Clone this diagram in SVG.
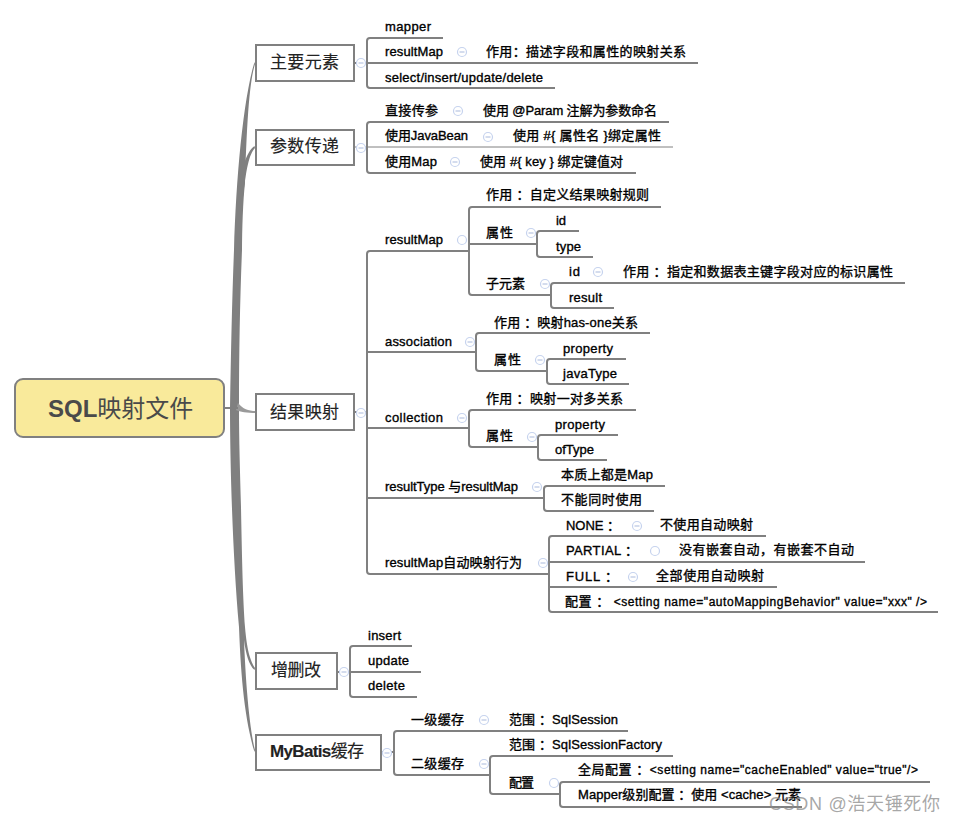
<svg xmlns="http://www.w3.org/2000/svg" width="956" height="822" viewBox="0 0 956 822">
<style>
text{font-family:"Liberation Sans","Noto Sans CJK SC",sans-serif;fill:#000}
.t{font-size:13px;stroke:#000;stroke-width:.35px}
.h{font-size:17px;fill:#222;stroke:#222;stroke-width:.15px}
.box{fill:#fff;stroke:#808080;stroke-width:2}
.l{fill:none;stroke:#808080;stroke-width:2}
.f{fill:#808080;stroke:none}
.c{fill:#fff;stroke:#c6d3ee;stroke-width:1.2}
.m{stroke:#a9b9dc;stroke-width:1;fill:none}
</style>
<defs>
<g id="cm"><circle class="c" r="4.5"/><path class="m" d="M-2.5 0H2.5"/></g>
<circle id="co" class="c" r="4.5"/>
</defs>
<rect width="956" height="822" fill="#fff"/>
<g id="connectors">
<path class="f" d="M230 408C231 350 232 300 234 250C236 180 243 100 254.5 62L255 64C250 80 247 115 245 183C243 200 242 230 242 250C240 300 239 350 239 408Z"/>
<path class="f" d="M239 192C241 170 246 152 254.5 146L255 148C249 154 246 170 243 197Z"/>
<path class="f" d="M230 408C230 470 233 560 239 627C241 680 245 720 254.5 752L255 750C250 730 246 690 244 640C246 655 249 665 254.5 670L255 668C250 660 247 650 245 627C243 600 242 560 241 507C240 470 239 440 239 408Z"/>
<path d="M238 403C243 409 248 411 256 411V413C247 413 240 412 236 410Z" fill="#9a9a9a"/>
<path class="l" d="M224 408H238"/>
<g id="c-main">
<path class="l" d="M443 38H370Q367 38 367 41V85Q367 88 370 88H555"/><path class="l" d="M354 63H698"/>
<path class="l" d="M669 122H370Q367 122 367 125V170Q367 173 370 173H636"/><path d="M354 147H673" fill="none" stroke="#808080"/>
<path class="l" d="M354 412H367"/>
<path class="l" d="M469 251H370Q367 251 367 254V571Q367 574 370 574H549"/>
<path class="l" d="M367 352H476M367 428H469M367 498H544"/>
</g>
<g id="c-resultmap">
<path class="l" d="M661 207H472Q469 207 469 210V292Q469 295 472 295H551"/><path class="l" d="M469 244H537"/>
<path class="l" d="M579 231H540Q537 231 537 234V254Q537 257 540 257H593"/>
<path class="l" d="M905 283H554Q551 283 551 286V305Q551 308 554 308H614"/>
<path class="l" d="M650 333H479Q476 333 476 336V368Q476 371 479 371H547"/>
<path class="l" d="M626 359H550Q547 359 547 362V381Q547 384 550 384H629"/>
<path class="l" d="M636 410H472Q469 410 469 413V444Q469 447 472 447H538"/>
<path class="l" d="M618 435H541Q538 435 538 438V457Q538 460 541 460H607"/>
<path class="l" d="M665 486H547Q544 486 544 489V508Q544 511 547 511H654"/>
<path class="l" d="M766 536H552Q549 536 549 539V609Q549 612 552 612H938"/>
<path class="l" d="M549 562H865M549 587H777"/>
</g>
<g id="c-crud">
<path class="l" d="M412 646H353Q350 646 350 649V694Q350 697 353 697H417"/><path class="l" d="M337 672H421"/>
</g>
<g id="c-cache">
<path class="l" d="M628 731H397Q394 731 394 734V772Q394 775 397 775H490"/>
<path class="l" d="M673 756H493Q490 756 490 759V791Q490 794 493 794H560"/>
<path class="l" d="M930 782H563Q560 782 560 785V804Q560 807 563 807H802"/>
<path class="l" d="M380 752H394"/>
</g>
</g>
<g id="root"><rect x="15" y="379" width="209" height="58" rx="8" fill="#f9ea9b" stroke="#808080" stroke-width="2"/>
<text x="48" y="417" font-size="24" style="fill:#4a4a4a"><tspan font-weight="bold">SQL</tspan>映射文件</text></g>
<g id="t1"><rect class="box" x="256" y="45" width="98" height="36"/><text class="h" x="270" y="68" textLength="69">主要元素</text><use href="#cm" x="361" y="63"/></g>
<g id="t2"><rect class="box" x="256" y="130" width="98" height="35"/><text class="h" x="270" y="152" textLength="69">参数传递</text><use href="#cm" x="361" y="148"/></g>
<g id="t3"><rect class="box" x="256" y="394" width="98" height="36"/><text class="h" x="270" y="418" textLength="69">结果映射</text><use href="#cm" x="361" y="413"/></g>
<g id="t4"><rect class="box" x="256" y="653" width="81" height="36"/><text class="h" x="271" y="676" textLength="50">增删改</text><use href="#cm" x="344" y="672"/></g>
<g id="t5"><rect class="box" x="256" y="735" width="125" height="35"/><text class="h" x="270" y="757" textLength="94"><tspan font-weight="bold">MyBatis</tspan>缓存</text><use href="#cm" x="387" y="753"/></g>

<g id="n1"><text class="t" x="385" y="31" textLength="46">mapper</text></g>
<g id="n2"><text class="t" x="385" y="56" textLength="58">resultMap</text><use href="#cm" x="462" y="52"/></g>
<g id="n3"><text class="t" x="486" y="56" textLength="200">作用：描述字段和属性的映射关系</text></g>
<g id="n4"><text class="t" x="385" y="82" textLength="158">select/insert/update/delete</text></g>
<g id="n5"><text class="t" x="385" y="115" textLength="53">直接传参</text><use href="#cm" x="458" y="111"/></g>
<g id="n6"><text class="t" x="483" y="115" textLength="174">使用 @Param 注解为参数命名</text></g>
<g id="n7"><text class="t" x="385" y="140" textLength="83">使用JavaBean</text><use href="#cm" x="488" y="137"/></g>
<g id="n8"><text class="t" x="513" y="140" textLength="148">使用 #{ 属性名 }绑定属性</text></g>
<g id="n9"><text class="t" x="385" y="166" textLength="52">使用Map</text><use href="#cm" x="455" y="162"/></g>
<g id="n10"><text class="t" x="480" y="166" textLength="143">使用 #{ key } 绑定键值对</text></g>
<g id="n11"><text class="t" x="385" y="244" textLength="58">resultMap</text><use href="#co" x="462" y="240"/></g>
<g id="n12"><text class="t" x="486" y="199" textLength="163">作用 ：自定义结果映射规则</text></g>
<g id="n13"><text class="t" x="486" y="237" textLength="27">属性</text><use href="#cm" x="531" y="233"/></g>
<g id="n14"><text class="t" x="556" y="225" textLength="10">id</text></g>
<g id="n15"><text class="t" x="556" y="251" textLength="25">type</text></g>
<g id="n16"><text class="t" x="486" y="288" textLength="39">子元素</text><use href="#cm" x="545" y="284"/></g>
<g id="n17"><text class="t" x="569" y="276" textLength="11">id</text><use href="#cm" x="598" y="272"/></g>
<g id="n18"><text class="t" x="623" y="276" textLength="270">作用 ：指定和数据表主键字段对应的标识属性</text></g>
<g id="n19"><text class="t" x="569" y="302" textLength="33">result</text></g>
<g id="n20"><text class="t" x="385" y="346" textLength="67">association</text><use href="#cm" x="470" y="342"/></g>
<g id="n21"><text class="t" x="494" y="327" textLength="144">作用 ：映射has-one关系</text></g>
<g id="n22"><text class="t" x="494" y="364" textLength="27">属性</text><use href="#cm" x="540" y="360"/></g>
<g id="n23"><text class="t" x="563" y="353" textLength="50">property</text></g>
<g id="n24"><text class="t" x="563" y="378" textLength="54">javaType</text></g>
<g id="n25"><text class="t" x="385" y="422" textLength="58">collection</text><use href="#cm" x="462" y="418"/></g>
<g id="n26"><text class="t" x="486" y="403" textLength="137">作用 ：映射一对多关系</text></g>
<g id="n27"><text class="t" x="486" y="440" textLength="27">属性</text><use href="#cm" x="532" y="437"/></g>
<g id="n28"><text class="t" x="555" y="429" textLength="50">property</text></g>
<g id="n29"><text class="t" x="555" y="454" textLength="39">ofType</text></g>
<g id="n30"><text class="t" x="385" y="491" textLength="133">resultType 与resultMap</text><use href="#cm" x="537" y="487"/></g>
<g id="n31"><text class="t" x="561" y="479" textLength="92">本质上都是Map</text></g>
<g id="n32"><text class="t" x="561" y="504" textLength="81">不能同时使用</text></g>
<g id="n33"><text class="t" x="385" y="567" textLength="137">resultMap自动映射行为</text><use href="#cm" x="543" y="563"/></g>
<g id="n34"><text class="t" x="566" y="530" textLength="54">NONE ：</text><use href="#cm" x="637" y="526"/></g>
<g id="n35"><text class="t" x="660" y="529" textLength="93">不使用自动映射</text></g>
<g id="n36"><text class="t" x="566" y="555" textLength="72">PARTIAL ：</text><use href="#co" x="655" y="551"/></g>
<g id="n37"><text class="t" x="679" y="554" textLength="175">没有嵌套自动，有嵌套不自动</text></g>
<g id="n38"><text class="t" x="566" y="581" textLength="52">FULL ：</text><use href="#cm" x="633" y="577"/></g>
<g id="n39"><text class="t" x="656" y="580" textLength="108">全部使用自动映射</text></g>
<g id="n40"><text class="t" x="565" y="606" textLength="362">配置 ：<tspan font-size="12"> &lt;setting name="autoMappingBehavior" value="xxx" /&gt;</tspan></text></g>
<g id="n41"><text class="t" x="368" y="640" textLength="33">insert</text></g>
<g id="n42"><text class="t" x="368" y="665" textLength="41">update</text></g>
<g id="n43"><text class="t" x="368" y="690" textLength="37">delete</text></g>
<g id="n44"><text class="t" x="411" y="724" textLength="53">一级缓存</text><use href="#cm" x="484" y="720"/></g>
<g id="n45"><text class="t" x="509" y="724" textLength="109">范围 ：SqlSession</text></g>
<g id="n46"><text class="t" x="411" y="768" textLength="53">二级缓存</text><use href="#cm" x="484" y="764"/></g>
<g id="n47"><text class="t" x="509" y="749" textLength="153">范围 ：SqlSessionFactory</text></g>
<g id="n48"><text class="t" x="509" y="787" textLength="25">配置</text><use href="#co" x="554" y="783"/></g>
<g id="n49"><text class="t" x="578" y="774" textLength="340">全局配置 ：<tspan font-size="12">&lt;setting name="cacheEnabled" value="true"/&gt;</tspan></text></g>
<g id="n50"><text class="t" x="578" y="799" textLength="223">Mapper级别配置 ：使用 &lt;cache&gt; 元素</text></g>
<text x="769" y="810" font-size="18" style="fill:#8a8a8a;fill-opacity:.75" textLength="171">CSDN @浩天锤死你</text>
</svg>
